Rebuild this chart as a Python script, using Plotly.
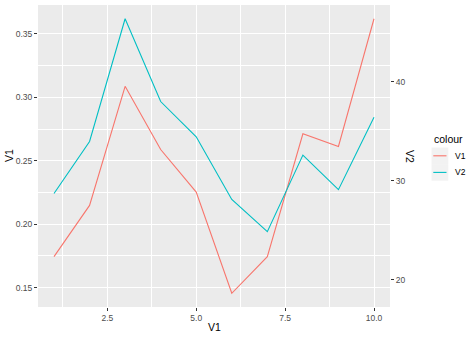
import plotly.graph_objects as go

# ---- data ----
x_vals = [1, 2, 3, 4, 5, 6, 7, 8, 9, 10]
v1_vals = [0.1744, 0.2148, 0.3087, 0.2589, 0.2253, 0.1455, 0.1744, 0.2713, 0.2613, 0.3620]
v2_vals = [28.70, 33.95, 46.34, 37.98, 34.42, 28.10, 24.84, 32.57, 29.08, 36.39]
series_names = ["V1", "V2"]
series_colors = ["#F8766D", "#00BFC4"]
sec_scale = 128  # V2 = V1-axis * 128

W, H = 474, 338
L, R, T, B = 38, 84, 5, 31
pw, ph = W - L - R, H - T - B

def px_x(p):
    return (p - L) / pw

def px_y(p):
    return (H - B - p) / ph

# ggplot-like expansion of the combined (primary-scale) data
all_primary = v1_vals + [v / sec_scale for v in v2_vals]
lo, hi = min(all_primary), max(all_primary)
pad = 0.05 * (hi - lo)
yr = [lo - pad, hi + pad]
xpad = 0.05 * (max(x_vals) - min(x_vals))
xr = [min(x_vals) - xpad, max(x_vals) + xpad]

fig = go.Figure()
fig.add_trace(go.Scatter(x=x_vals, y=v1_vals, mode="lines", name=series_names[0],
                         line=dict(color=series_colors[0], width=1.1), yaxis="y"))
fig.add_trace(go.Scatter(x=x_vals, y=v2_vals, mode="lines", name=series_names[1],
                         line=dict(color=series_colors[1], width=1.1), yaxis="y2"))

tickfont = dict(family="Liberation Sans, Arial, sans-serif", size=8.5, color="#4D4D4D")
titlefont = dict(family="Liberation Sans, Arial, sans-serif", size=10.5, color="#000000")

fig.update_layout(
    width=W, height=H,
    margin=dict(l=L, r=R, t=T, b=B, pad=0),
    paper_bgcolor="white", plot_bgcolor="#EBEBEB",
    showlegend=False,
    font=dict(family="Liberation Sans, Arial, sans-serif"),
    xaxis=dict(range=xr, tick0=0, dtick=2.5, tickformat=".1f",
               showgrid=True, gridcolor="white", gridwidth=1.1,
               minor=dict(dtick=1.25, tick0=0, showgrid=True, gridcolor="white", gridwidth=0.5),
               zeroline=False, showline=False,
               ticks="outside", ticklen=3, tickwidth=1, tickcolor="#333333",
               tickfont=tickfont, fixedrange=True),
    yaxis=dict(range=yr, tick0=0, dtick=0.05, tickformat=".2f",
               showgrid=True, gridcolor="white", gridwidth=1.1,
               minor=dict(dtick=0.025, tick0=0, showgrid=True, gridcolor="white", gridwidth=0.5),
               zeroline=False, showline=False,
               ticks="outside", ticklen=3, tickwidth=1, tickcolor="#333333",
               tickfont=tickfont),
    yaxis2=dict(range=[yr[0] * sec_scale, yr[1] * sec_scale], overlaying="y", side="right",
                tick0=0, dtick=10, showgrid=False, zeroline=False, showline=False,
                ticks="outside", ticklen=3, tickwidth=1, tickcolor="#333333",
                tickfont=tickfont),
)

annotations = [
    dict(text="V1", x=px_x(214), y=px_y(327), xref="paper", yref="paper",
         showarrow=False, font=titlefont, xanchor="center", yanchor="middle"),
    dict(text="V1", x=px_x(9), y=px_y(156), xref="paper", yref="paper", textangle=-90,
         showarrow=False, font=titlefont, xanchor="center", yanchor="middle"),
    dict(text="V2", x=px_x(410), y=px_y(156), xref="paper", yref="paper", textangle=90,
         showarrow=False, font=titlefont, xanchor="center", yanchor="middle"),
    dict(text="colour", x=px_x(432), y=px_y(138.5), xref="paper", yref="paper",
         showarrow=False, font=titlefont, xanchor="left", yanchor="middle"),
]

shapes = []
key_top = 147.5
key_h = 16.6
for i, (nm, col) in enumerate(zip(series_names, series_colors)):
    y0 = key_top + i * key_h
    y1 = y0 + key_h
    shapes.append(dict(type="rect", xref="paper", yref="paper",
                       x0=px_x(431.5), x1=px_x(448.3), y0=px_y(y1), y1=px_y(y0),
                       fillcolor="#F2F2F2", line=dict(width=0), layer="above"))
    ym = (y0 + y1) / 2
    shapes.append(dict(type="line", xref="paper", yref="paper",
                       x0=px_x(433.3), x1=px_x(446.5), y0=px_y(ym), y1=px_y(ym),
                       line=dict(color=col, width=1.1), layer="above"))
    annotations.append(dict(text=nm, x=px_x(452.5), y=px_y(ym), xref="paper", yref="paper",
                            showarrow=False, xanchor="left", yanchor="middle",
                            font=dict(family="Liberation Sans, Arial, sans-serif", size=8.5,
                                      color="#000000")))

fig.update_layout(annotations=annotations, shapes=shapes)
fig.write_html("out.html")
